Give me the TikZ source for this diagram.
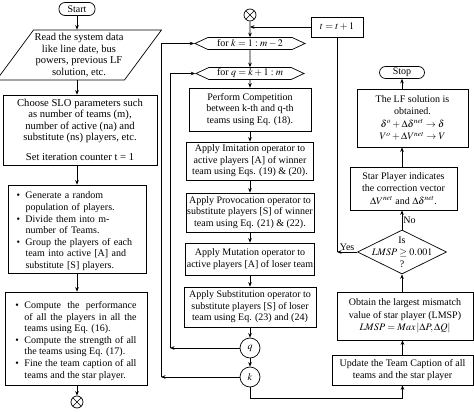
\documentclass[tikz,border=0pt]{standalone}
\usepackage{mathptmx}
\usepackage{fontspec}
\setmainfont{Liberation Serif}
\usetikzlibrary{arrows.meta, shapes.geometric, shapes.symbols}

\newcommand{\pitem}[1]{\par\noindent\hangindent=9pt\hangafter=1\makebox[9pt][l]{\textbullet}#1}

\begin{document}
\begin{tikzpicture}[x=1pt, y=-1pt, line width=0.7pt,
    >={Stealth[length=4.5pt, width=3.6pt]},
    base/.style={font=\fontsize{10}{11.6}\selectfont, inner sep=1pt},
    box/.style={base, draw, rectangle, align=center},
    rbox/.style={box, font=\fontsize{10}{12.4}\selectfont},
    term/.style={base, draw, rounded corners=6pt, minimum width=36, minimum height=13},
    io/.style={base, draw, trapezium, trapezium left angle=51, trapezium right angle=129,
        trapezium stretches=true, align=center, minimum width=158, minimum height=50},
    forhex/.style={base, draw, signal, signal to=east and west, signal pointer angle=50,
        minimum height=12, inner sep=0pt},
    junc/.style={draw, circle, minimum size=12, inner sep=0pt,
        path picture={\draw (path picture bounding box.north west) -- (path picture bounding box.south east)
            (path picture bounding box.north east) -- (path picture bounding box.south west);}},
    loopend/.style={draw, circle, minimum size=20, inner sep=0pt, font=\fontsize{10}{12}\selectfont},
    decision/.style={draw, diamond, inner sep=0pt, minimum width=89, minimum height=44}]
    \useasboundingbox (0,0) rectangle (474,412);

    % Coluna esquerda
    \node[term] (start) at (77,9) {Start};
    \node[io, font=\fontsize{10.5}{11.6}\selectfont] (read) at (79,55)
        {Read the system data\\like line date, bus\\powers, previous LF\\solution, etc.};
    \node[box, font=\fontsize{10.6}{11.5}\selectfont, minimum width=154, minimum height=70] (slo) at (80,130)
        {Choose SLO parameters such\\as number of teams (m),\\number of active (na) and\\substitute (ns) players, etc.\\[8.5pt]Set iteration counter t = 1};
    \node[box, align=left, text width=121, minimum width=138, minimum height=88] (gen) at (77,229)
        {\pitem{Generate a random\newline population of players.}
         \pitem{Divide them into m-\newline number of Teams.}
         \pitem{Group the players of each\newline team into active [A] and\newline substitute [S] players.}\par};
    \node[box, align=justify, text width=121, minimum width=142, minimum height=93] (comp) at (76,338.5)
        {\pitem{Compute the performance\linebreak of all the players in all the\linebreak teams using Eq. (16).}
         \pitem{Compute the strength of all\linebreak the teams using Eq. (17).}
         \pitem{Fine the team caption of all\linebreak teams and the star player.}\par};
    \node[junc] (jbot) at (77,402) {};

    % Coluna do meio
    \node[junc] (jtop) at (250,15) {};
    \node[forhex, minimum width=110] (fork) at (250,43.5) {for $k=1:m-2$};
    \node[forhex, minimum width=108] (forq) at (250,73.5) {for $q=k+1:m$};
    \node[box, minimum width=122, minimum height=43] (perf) at (250,109.5)
        {Perform Competition\\between k-th and q-th\\teams using Eq. (18).};
    \node[box, minimum width=127, minimum height=38] (imit) at (250,161)
        {Apply Imitation operator to\\active players [A] of winner\\team using Eqs. (19) \& (20).};
    \node[box, minimum width=128, minimum height=39] (prov) at (250,212.5)
        {Apply Provocation operator to\\substitute players [S] of winner\\team using Eq. (21) \& (22).};
    \node[box, minimum width=128, minimum height=32] (mut) at (250,259)
        {Apply Mutation operator to\\active players [A] of loser team};
    \node[box, minimum width=132, minimum height=40] (subst) at (250,307)
        {Apply Substitution operator to\\substitute players [S] of loser\\team using Eq. (23) and (24)};
    \node[loopend] (qend) at (250,348) {$q$};
    \node[loopend] (kend) at (250,377) {$k$};

    % Coluna direita
    \node[box, minimum width=52, minimum height=20] (tinc) at (337,27) {$t=t+1$};
    \node[term, minimum width=45, minimum height=12] (stop) at (402,72.5) {Stop};
    \node[rbox, minimum width=111, minimum height=58] (lf) at (412.5,118)
        {The LF solution is\\obtained.\\$\delta^{o}+\Delta\delta^{net}\rightarrow\delta$\\$V^{o}+\Delta V^{net}\rightarrow V$};
    \node[rbox, minimum width=107, minimum height=43] (star) at (403.5,188.5)
        {Star Player indicates\\the correction vector\\$\Delta V^{net}$ and $\Delta\delta^{net}$.};
    \node[decision] (dec) at (402,252) {};
    \node[base, align=center, font=\fontsize{10}{12}\selectfont] (dectxt) at (dec) {Is\\$LMSP\geq 0.001$\\?};
    \node[rbox, minimum width=136, minimum height=48] (obt) at (405,316)
        {Obtain the largest mismatch\\value of star player (LMSP)\\$LMSP=Max\left|\Delta P,\Delta Q\right|$};
    \node[rbox, minimum width=141, minimum height=30] (upd) at (402.5,370)
        {Update the Team Caption of all\\teams and the star player};

    % Setas
    \foreach \a/\b in {start/read, read/slo, slo/gen, gen/comp, comp/jbot}
        \draw[->] (\a.south -| start) -- (\b.north -| start);
    \foreach \a/\b in {jtop/fork, fork/forq, forq/perf, perf/imit, imit/prov, prov/mut, mut/subst, subst/qend, qend/kend}
        \draw[->] (\a) -- (\b);
    \draw[->] (tinc.west) -- (tinc.west -| jtop);

    % Lacos
    \coordinate (qturn) at (170,348);
    \coordinate (kturn) at (161,377);
    \coordinate (kexit) at (250,398);
    \draw[->] (qend) -- (qturn);
    \draw[->] (qturn) |- (forq);
    \draw[->] (kend) -- (kturn);
    \draw[->] (kturn) |- (fork);
    \draw[->] (kend) -- (kexit) -| (upd);

    % Convergencia
    \draw[->] (upd.north) -- (upd.north |- obt.south);
    \draw[->] (dec |- obt.north) -- (dec.south);
    \draw[->] (dec.north) -- (dec |- star.south) node[midway, right, base] {No};
    \draw[->] (dec |- star.north) -- (dec |- lf.south);
    \draw[->] (dec |- lf.north) -- (stop.south);
    \draw[->] (dec.west) -- (dec.west -| tinc) node[midway, above, base] {Yes};
    \draw (dec.west -| tinc) -- (tinc);
\end{tikzpicture}
\end{document}
